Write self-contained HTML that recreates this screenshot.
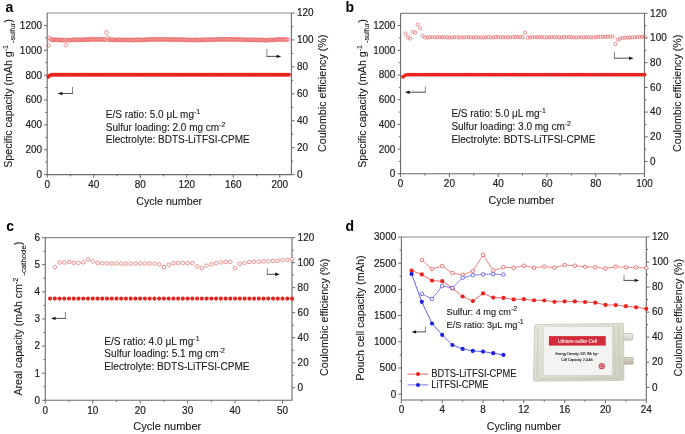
<!DOCTYPE html>
<html><head><meta charset="utf-8"><style>
html,body{margin:0;padding:0;background:#fff;}
svg{display:block;font-family:"Liberation Sans", sans-serif;will-change:transform;}
</style></head><body>
<svg width="685" height="434" viewBox="0 0 685 434">
<rect width="685" height="434" fill="#fff"/>
<path d="M47.2,13H291.4" stroke="#8a8a8a" stroke-width="1.2"/><path d="M47.2,13V174.6H291.4V13" stroke="#6a6a6a" stroke-width="1.1" fill="none"/><path d="M47.2,174.6v3.2M93.71,174.6v3.2M140.23,174.6v3.2M186.74,174.6v3.2M233.26,174.6v3.2M279.77,174.6v3.2M70.46,174.6v1.8M116.97,174.6v1.8M163.49,174.6v1.8M210,174.6v1.8M256.51,174.6v1.8M47.2,174.6h-3.2M47.2,149.74h-3.2M47.2,124.88h-3.2M47.2,100.02h-3.2M47.2,75.15h-3.2M47.2,50.29h-3.2M47.2,25.43h-3.2M47.2,162.17h-1.8M47.2,137.31h-1.8M47.2,112.45h-1.8M47.2,87.58h-1.8M47.2,62.72h-1.8M47.2,37.86h-1.8M291.4,174.6h3.2M291.4,147.67h3.2M291.4,120.73h3.2M291.4,93.8h3.2M291.4,66.87h3.2M291.4,39.93h3.2M291.4,13h3.2M291.4,161.13h1.8M291.4,134.2h1.8M291.4,107.27h1.8M291.4,80.33h1.8M291.4,53.4h1.8M291.4,26.47h1.8" stroke="#6a6a6a" stroke-width="1" fill="none"/><g font-size="9.95" fill="#1c1c1c" stroke="#1c1c1c" stroke-width="0.18"><text transform="matrix(1,0,0,1.03,47.2,188)" text-anchor="middle">0</text><text transform="matrix(1,0,0,1.03,93.71,188)" text-anchor="middle">40</text><text transform="matrix(1,0,0,1.03,140.23,188)" text-anchor="middle">80</text><text transform="matrix(1,0,0,1.03,186.74,188)" text-anchor="middle">120</text><text transform="matrix(1,0,0,1.03,233.26,188)" text-anchor="middle">160</text><text transform="matrix(1,0,0,1.03,279.77,188)" text-anchor="middle">200</text><text transform="matrix(1,0,0,1.03,42,178)" text-anchor="end">0</text><text transform="matrix(1,0,0,1.03,42,153.14)" text-anchor="end">200</text><text transform="matrix(1,0,0,1.03,42,128.28)" text-anchor="end">400</text><text transform="matrix(1,0,0,1.03,42,103.42)" text-anchor="end">600</text><text transform="matrix(1,0,0,1.03,42,78.55)" text-anchor="end">800</text><text transform="matrix(1,0,0,1.03,42,53.69)" text-anchor="end">1000</text><text transform="matrix(1,0,0,1.03,42,28.83)" text-anchor="end">1200</text><text transform="matrix(1,0,0,1.03,297,177.8)">0</text><text transform="matrix(1,0,0,1.03,297,150.87)">20</text><text transform="matrix(1,0,0,1.03,297,123.93)">40</text><text transform="matrix(1,0,0,1.03,297,97)">60</text><text transform="matrix(1,0,0,1.03,297,70.07)">80</text><text transform="matrix(1,0,0,1.03,297,43.13)">100</text><text transform="matrix(1,0,0,1.03,297,16.2)">120</text></g><g fill="none" stroke="#ec6868" stroke-width="0.7"><circle cx="48.36" cy="45.4" r="1.85"/><circle cx="49.53" cy="37.8" r="1.85"/><circle cx="50.69" cy="39.6" r="1.85"/><circle cx="51.85" cy="39.89" r="1.85"/><circle cx="53.01" cy="39.93" r="1.85"/><circle cx="54.18" cy="39.62" r="1.85"/><circle cx="55.34" cy="39.62" r="1.85"/><circle cx="56.5" cy="40.14" r="1.85"/><circle cx="57.67" cy="39.81" r="1.85"/><circle cx="58.83" cy="39.81" r="1.85"/><circle cx="59.99" cy="40.28" r="1.85"/><circle cx="61.15" cy="39.97" r="1.85"/><circle cx="62.32" cy="40.2" r="1.85"/><circle cx="63.48" cy="39.99" r="1.85"/><circle cx="64.64" cy="40.08" r="1.85"/><circle cx="65.81" cy="45.2" r="1.85"/><circle cx="66.97" cy="40.07" r="1.85"/><circle cx="68.13" cy="40.19" r="1.85"/><circle cx="69.29" cy="39.97" r="1.85"/><circle cx="70.46" cy="40.08" r="1.85"/><circle cx="71.62" cy="40.02" r="1.85"/><circle cx="72.78" cy="39.63" r="1.85"/><circle cx="73.95" cy="40.02" r="1.85"/><circle cx="75.11" cy="39.89" r="1.85"/><circle cx="76.27" cy="39.69" r="1.85"/><circle cx="77.43" cy="39.49" r="1.85"/><circle cx="78.6" cy="39.96" r="1.85"/><circle cx="79.76" cy="39.69" r="1.85"/><circle cx="80.92" cy="39.81" r="1.85"/><circle cx="82.09" cy="39.87" r="1.85"/><circle cx="83.25" cy="39.74" r="1.85"/><circle cx="84.41" cy="39.83" r="1.85"/><circle cx="85.57" cy="39.49" r="1.85"/><circle cx="86.74" cy="39.7" r="1.85"/><circle cx="87.9" cy="39.46" r="1.85"/><circle cx="89.06" cy="39.73" r="1.85"/><circle cx="90.23" cy="39.68" r="1.85"/><circle cx="91.39" cy="39.19" r="1.85"/><circle cx="92.55" cy="39.2" r="1.85"/><circle cx="93.71" cy="39.24" r="1.85"/><circle cx="94.88" cy="39.68" r="1.85"/><circle cx="96.04" cy="39.36" r="1.85"/><circle cx="97.2" cy="39.48" r="1.85"/><circle cx="98.37" cy="39.29" r="1.85"/><circle cx="99.53" cy="39.42" r="1.85"/><circle cx="100.69" cy="39.36" r="1.85"/><circle cx="101.85" cy="39.35" r="1.85"/><circle cx="103.02" cy="39.51" r="1.85"/><circle cx="104.18" cy="39.53" r="1.85"/><circle cx="105.34" cy="39.74" r="1.85"/><circle cx="106.51" cy="32.6" r="1.85"/><circle cx="107.67" cy="38" r="1.85"/><circle cx="108.83" cy="39.8" r="1.85"/><circle cx="109.99" cy="39.91" r="1.85"/><circle cx="111.16" cy="39.75" r="1.85"/><circle cx="112.32" cy="39.48" r="1.85"/><circle cx="113.48" cy="39.93" r="1.85"/><circle cx="114.65" cy="40.03" r="1.85"/><circle cx="115.81" cy="40.02" r="1.85"/><circle cx="116.97" cy="39.85" r="1.85"/><circle cx="118.13" cy="39.97" r="1.85"/><circle cx="119.3" cy="39.7" r="1.85"/><circle cx="120.46" cy="40.1" r="1.85"/><circle cx="121.62" cy="39.97" r="1.85"/><circle cx="122.79" cy="39.81" r="1.85"/><circle cx="123.95" cy="39.7" r="1.85"/><circle cx="125.11" cy="40.19" r="1.85"/><circle cx="126.27" cy="40.28" r="1.85"/><circle cx="127.44" cy="39.75" r="1.85"/><circle cx="128.6" cy="40.18" r="1.85"/><circle cx="129.76" cy="39.95" r="1.85"/><circle cx="130.93" cy="39.79" r="1.85"/><circle cx="132.09" cy="39.87" r="1.85"/><circle cx="133.25" cy="40.14" r="1.85"/><circle cx="134.41" cy="40.19" r="1.85"/><circle cx="135.58" cy="39.68" r="1.85"/><circle cx="136.74" cy="40" r="1.85"/><circle cx="137.9" cy="39.63" r="1.85"/><circle cx="139.07" cy="40.01" r="1.85"/><circle cx="140.23" cy="39.75" r="1.85"/><circle cx="141.39" cy="40.05" r="1.85"/><circle cx="142.55" cy="40.08" r="1.85"/><circle cx="143.72" cy="39.76" r="1.85"/><circle cx="144.88" cy="40.03" r="1.85"/><circle cx="146.04" cy="39.58" r="1.85"/><circle cx="147.21" cy="39.41" r="1.85"/><circle cx="148.37" cy="39.69" r="1.85"/><circle cx="149.53" cy="39.32" r="1.85"/><circle cx="150.69" cy="39.38" r="1.85"/><circle cx="151.86" cy="39.48" r="1.85"/><circle cx="153.02" cy="39.58" r="1.85"/><circle cx="154.18" cy="39.28" r="1.85"/><circle cx="155.35" cy="39.19" r="1.85"/><circle cx="156.51" cy="39.67" r="1.85"/><circle cx="157.67" cy="39.32" r="1.85"/><circle cx="158.83" cy="39.69" r="1.85"/><circle cx="160" cy="39.65" r="1.85"/><circle cx="161.16" cy="39.33" r="1.85"/><circle cx="162.32" cy="39.38" r="1.85"/><circle cx="163.49" cy="39.41" r="1.85"/><circle cx="164.65" cy="39.49" r="1.85"/><circle cx="165.81" cy="39.47" r="1.85"/><circle cx="166.97" cy="39.47" r="1.85"/><circle cx="168.14" cy="39.52" r="1.85"/><circle cx="169.3" cy="39.73" r="1.85"/><circle cx="170.46" cy="39.49" r="1.85"/><circle cx="171.63" cy="39.47" r="1.85"/><circle cx="172.79" cy="39.67" r="1.85"/><circle cx="173.95" cy="39.41" r="1.85"/><circle cx="175.11" cy="39.48" r="1.85"/><circle cx="176.28" cy="39.92" r="1.85"/><circle cx="177.44" cy="39.68" r="1.85"/><circle cx="178.6" cy="39.73" r="1.85"/><circle cx="179.77" cy="39.44" r="1.85"/><circle cx="180.93" cy="39.71" r="1.85"/><circle cx="182.09" cy="39.84" r="1.85"/><circle cx="183.25" cy="39.54" r="1.85"/><circle cx="184.42" cy="39.92" r="1.85"/><circle cx="185.58" cy="39.96" r="1.85"/><circle cx="186.74" cy="39.64" r="1.85"/><circle cx="187.91" cy="40.01" r="1.85"/><circle cx="189.07" cy="39.93" r="1.85"/><circle cx="190.23" cy="40.07" r="1.85"/><circle cx="191.39" cy="39.89" r="1.85"/><circle cx="192.56" cy="40.11" r="1.85"/><circle cx="193.72" cy="40.14" r="1.85"/><circle cx="194.88" cy="39.71" r="1.85"/><circle cx="196.05" cy="39.74" r="1.85"/><circle cx="197.21" cy="40.1" r="1.85"/><circle cx="198.37" cy="40.26" r="1.85"/><circle cx="199.53" cy="39.82" r="1.85"/><circle cx="200.7" cy="39.93" r="1.85"/><circle cx="201.86" cy="40" r="1.85"/><circle cx="203.02" cy="39.81" r="1.85"/><circle cx="204.19" cy="39.81" r="1.85"/><circle cx="205.35" cy="39.76" r="1.85"/><circle cx="206.51" cy="39.76" r="1.85"/><circle cx="207.67" cy="39.87" r="1.85"/><circle cx="208.84" cy="39.66" r="1.85"/><circle cx="210" cy="39.67" r="1.85"/><circle cx="211.16" cy="39.88" r="1.85"/><circle cx="212.33" cy="39.4" r="1.85"/><circle cx="213.49" cy="39.69" r="1.85"/><circle cx="214.65" cy="39.75" r="1.85"/><circle cx="215.81" cy="39.47" r="1.85"/><circle cx="216.98" cy="39.39" r="1.85"/><circle cx="218.14" cy="39.71" r="1.85"/><circle cx="219.3" cy="39.34" r="1.85"/><circle cx="220.47" cy="39.29" r="1.85"/><circle cx="221.63" cy="39.42" r="1.85"/><circle cx="222.79" cy="39.56" r="1.85"/><circle cx="223.95" cy="39.18" r="1.85"/><circle cx="225.12" cy="39.3" r="1.85"/><circle cx="226.28" cy="39.3" r="1.85"/><circle cx="227.44" cy="39.6" r="1.85"/><circle cx="228.61" cy="39.36" r="1.85"/><circle cx="229.77" cy="39.62" r="1.85"/><circle cx="230.93" cy="39.21" r="1.85"/><circle cx="232.09" cy="39.32" r="1.85"/><circle cx="233.26" cy="39.53" r="1.85"/><circle cx="234.42" cy="39.69" r="1.85"/><circle cx="235.58" cy="39.45" r="1.85"/><circle cx="236.75" cy="39.33" r="1.85"/><circle cx="237.91" cy="39.3" r="1.85"/><circle cx="239.07" cy="39.57" r="1.85"/><circle cx="240.23" cy="39.4" r="1.85"/><circle cx="241.4" cy="39.8" r="1.85"/><circle cx="242.56" cy="39.85" r="1.85"/><circle cx="243.72" cy="39.49" r="1.85"/><circle cx="244.89" cy="39.58" r="1.85"/><circle cx="246.05" cy="39.93" r="1.85"/><circle cx="247.21" cy="39.86" r="1.85"/><circle cx="248.37" cy="39.99" r="1.85"/><circle cx="249.54" cy="39.75" r="1.85"/><circle cx="250.7" cy="39.65" r="1.85"/><circle cx="251.86" cy="39.77" r="1.85"/><circle cx="253.03" cy="40.1" r="1.85"/><circle cx="254.19" cy="39.8" r="1.85"/><circle cx="255.35" cy="39.87" r="1.85"/><circle cx="256.51" cy="39.92" r="1.85"/><circle cx="257.68" cy="39.94" r="1.85"/><circle cx="258.84" cy="39.94" r="1.85"/><circle cx="260" cy="40.25" r="1.85"/><circle cx="261.17" cy="39.79" r="1.85"/><circle cx="262.33" cy="39.7" r="1.85"/><circle cx="263.49" cy="40.26" r="1.85"/><circle cx="264.65" cy="40.21" r="1.85"/><circle cx="265.82" cy="40.26" r="1.85"/><circle cx="266.98" cy="39.91" r="1.85"/><circle cx="268.14" cy="40.2" r="1.85"/><circle cx="269.31" cy="40.17" r="1.85"/><circle cx="270.47" cy="39.72" r="1.85"/><circle cx="271.63" cy="40" r="1.85"/><circle cx="272.79" cy="40.03" r="1.85"/><circle cx="273.96" cy="39.89" r="1.85"/><circle cx="275.12" cy="39.77" r="1.85"/><circle cx="276.28" cy="39.6" r="1.85"/><circle cx="277.45" cy="39.6" r="1.85"/><circle cx="278.61" cy="39.5" r="1.85"/><circle cx="279.77" cy="39.37" r="1.85"/><circle cx="280.93" cy="39.65" r="1.85"/><circle cx="282.1" cy="39.44" r="1.85"/><circle cx="283.26" cy="39.73" r="1.85"/><circle cx="284.42" cy="39.24" r="1.85"/><circle cx="285.59" cy="39.73" r="1.85"/><circle cx="286.75" cy="39.58" r="1.85"/><circle cx="287.91" cy="39.7" r="1.85"/></g><g fill="#e8231e"><circle cx="48.36" cy="76.89" r="1.85"/><circle cx="49.53" cy="75.65" r="1.85"/><circle cx="50.69" cy="75.03" r="1.85"/><circle cx="51.85" cy="74.66" r="1.85"/><circle cx="53.01" cy="74.66" r="1.85"/><circle cx="54.18" cy="74.66" r="1.85"/><circle cx="55.34" cy="74.66" r="1.85"/><circle cx="56.5" cy="74.66" r="1.85"/><circle cx="57.67" cy="74.66" r="1.85"/><circle cx="58.83" cy="74.66" r="1.85"/><circle cx="59.99" cy="74.66" r="1.85"/><circle cx="61.15" cy="74.66" r="1.85"/><circle cx="62.32" cy="74.66" r="1.85"/><circle cx="63.48" cy="74.66" r="1.85"/><circle cx="64.64" cy="74.66" r="1.85"/><circle cx="65.81" cy="74.66" r="1.85"/><circle cx="66.97" cy="74.66" r="1.85"/><circle cx="68.13" cy="74.66" r="1.85"/><circle cx="69.29" cy="74.66" r="1.85"/><circle cx="70.46" cy="74.66" r="1.85"/><circle cx="71.62" cy="74.66" r="1.85"/><circle cx="72.78" cy="74.66" r="1.85"/><circle cx="73.95" cy="74.66" r="1.85"/><circle cx="75.11" cy="74.66" r="1.85"/><circle cx="76.27" cy="74.66" r="1.85"/><circle cx="77.43" cy="74.66" r="1.85"/><circle cx="78.6" cy="74.66" r="1.85"/><circle cx="79.76" cy="74.66" r="1.85"/><circle cx="80.92" cy="74.66" r="1.85"/><circle cx="82.09" cy="74.66" r="1.85"/><circle cx="83.25" cy="74.66" r="1.85"/><circle cx="84.41" cy="74.66" r="1.85"/><circle cx="85.57" cy="74.66" r="1.85"/><circle cx="86.74" cy="74.66" r="1.85"/><circle cx="87.9" cy="74.66" r="1.85"/><circle cx="89.06" cy="74.66" r="1.85"/><circle cx="90.23" cy="74.66" r="1.85"/><circle cx="91.39" cy="74.66" r="1.85"/><circle cx="92.55" cy="74.66" r="1.85"/><circle cx="93.71" cy="74.66" r="1.85"/><circle cx="94.88" cy="74.66" r="1.85"/><circle cx="96.04" cy="74.66" r="1.85"/><circle cx="97.2" cy="74.66" r="1.85"/><circle cx="98.37" cy="74.66" r="1.85"/><circle cx="99.53" cy="74.66" r="1.85"/><circle cx="100.69" cy="74.66" r="1.85"/><circle cx="101.85" cy="74.66" r="1.85"/><circle cx="103.02" cy="74.66" r="1.85"/><circle cx="104.18" cy="74.66" r="1.85"/><circle cx="105.34" cy="74.66" r="1.85"/><circle cx="106.51" cy="74.66" r="1.85"/><circle cx="107.67" cy="74.66" r="1.85"/><circle cx="108.83" cy="74.66" r="1.85"/><circle cx="109.99" cy="74.66" r="1.85"/><circle cx="111.16" cy="74.66" r="1.85"/><circle cx="112.32" cy="74.66" r="1.85"/><circle cx="113.48" cy="74.66" r="1.85"/><circle cx="114.65" cy="74.66" r="1.85"/><circle cx="115.81" cy="74.66" r="1.85"/><circle cx="116.97" cy="74.66" r="1.85"/><circle cx="118.13" cy="74.66" r="1.85"/><circle cx="119.3" cy="74.66" r="1.85"/><circle cx="120.46" cy="74.66" r="1.85"/><circle cx="121.62" cy="74.66" r="1.85"/><circle cx="122.79" cy="74.66" r="1.85"/><circle cx="123.95" cy="74.66" r="1.85"/><circle cx="125.11" cy="74.66" r="1.85"/><circle cx="126.27" cy="74.66" r="1.85"/><circle cx="127.44" cy="74.66" r="1.85"/><circle cx="128.6" cy="74.66" r="1.85"/><circle cx="129.76" cy="74.66" r="1.85"/><circle cx="130.93" cy="74.66" r="1.85"/><circle cx="132.09" cy="74.66" r="1.85"/><circle cx="133.25" cy="74.66" r="1.85"/><circle cx="134.41" cy="74.66" r="1.85"/><circle cx="135.58" cy="74.66" r="1.85"/><circle cx="136.74" cy="74.66" r="1.85"/><circle cx="137.9" cy="74.66" r="1.85"/><circle cx="139.07" cy="74.66" r="1.85"/><circle cx="140.23" cy="74.66" r="1.85"/><circle cx="141.39" cy="74.66" r="1.85"/><circle cx="142.55" cy="74.66" r="1.85"/><circle cx="143.72" cy="74.66" r="1.85"/><circle cx="144.88" cy="74.66" r="1.85"/><circle cx="146.04" cy="74.66" r="1.85"/><circle cx="147.21" cy="74.66" r="1.85"/><circle cx="148.37" cy="74.66" r="1.85"/><circle cx="149.53" cy="74.66" r="1.85"/><circle cx="150.69" cy="74.66" r="1.85"/><circle cx="151.86" cy="74.66" r="1.85"/><circle cx="153.02" cy="74.66" r="1.85"/><circle cx="154.18" cy="74.66" r="1.85"/><circle cx="155.35" cy="74.66" r="1.85"/><circle cx="156.51" cy="74.66" r="1.85"/><circle cx="157.67" cy="74.66" r="1.85"/><circle cx="158.83" cy="74.66" r="1.85"/><circle cx="160" cy="74.66" r="1.85"/><circle cx="161.16" cy="74.66" r="1.85"/><circle cx="162.32" cy="74.66" r="1.85"/><circle cx="163.49" cy="74.66" r="1.85"/><circle cx="164.65" cy="74.66" r="1.85"/><circle cx="165.81" cy="74.66" r="1.85"/><circle cx="166.97" cy="74.66" r="1.85"/><circle cx="168.14" cy="74.66" r="1.85"/><circle cx="169.3" cy="74.66" r="1.85"/><circle cx="170.46" cy="74.66" r="1.85"/><circle cx="171.63" cy="74.66" r="1.85"/><circle cx="172.79" cy="74.66" r="1.85"/><circle cx="173.95" cy="74.66" r="1.85"/><circle cx="175.11" cy="74.66" r="1.85"/><circle cx="176.28" cy="74.66" r="1.85"/><circle cx="177.44" cy="74.66" r="1.85"/><circle cx="178.6" cy="74.66" r="1.85"/><circle cx="179.77" cy="74.66" r="1.85"/><circle cx="180.93" cy="74.66" r="1.85"/><circle cx="182.09" cy="74.66" r="1.85"/><circle cx="183.25" cy="74.66" r="1.85"/><circle cx="184.42" cy="74.66" r="1.85"/><circle cx="185.58" cy="74.66" r="1.85"/><circle cx="186.74" cy="74.66" r="1.85"/><circle cx="187.91" cy="74.66" r="1.85"/><circle cx="189.07" cy="74.66" r="1.85"/><circle cx="190.23" cy="74.66" r="1.85"/><circle cx="191.39" cy="74.66" r="1.85"/><circle cx="192.56" cy="74.66" r="1.85"/><circle cx="193.72" cy="74.66" r="1.85"/><circle cx="194.88" cy="74.66" r="1.85"/><circle cx="196.05" cy="74.66" r="1.85"/><circle cx="197.21" cy="74.66" r="1.85"/><circle cx="198.37" cy="74.66" r="1.85"/><circle cx="199.53" cy="74.66" r="1.85"/><circle cx="200.7" cy="74.66" r="1.85"/><circle cx="201.86" cy="74.66" r="1.85"/><circle cx="203.02" cy="74.66" r="1.85"/><circle cx="204.19" cy="74.66" r="1.85"/><circle cx="205.35" cy="74.66" r="1.85"/><circle cx="206.51" cy="74.66" r="1.85"/><circle cx="207.67" cy="74.66" r="1.85"/><circle cx="208.84" cy="74.66" r="1.85"/><circle cx="210" cy="74.66" r="1.85"/><circle cx="211.16" cy="74.66" r="1.85"/><circle cx="212.33" cy="74.66" r="1.85"/><circle cx="213.49" cy="74.66" r="1.85"/><circle cx="214.65" cy="74.66" r="1.85"/><circle cx="215.81" cy="74.66" r="1.85"/><circle cx="216.98" cy="74.66" r="1.85"/><circle cx="218.14" cy="74.66" r="1.85"/><circle cx="219.3" cy="74.66" r="1.85"/><circle cx="220.47" cy="74.66" r="1.85"/><circle cx="221.63" cy="74.66" r="1.85"/><circle cx="222.79" cy="74.66" r="1.85"/><circle cx="223.95" cy="74.66" r="1.85"/><circle cx="225.12" cy="74.66" r="1.85"/><circle cx="226.28" cy="74.66" r="1.85"/><circle cx="227.44" cy="74.66" r="1.85"/><circle cx="228.61" cy="74.66" r="1.85"/><circle cx="229.77" cy="74.66" r="1.85"/><circle cx="230.93" cy="74.66" r="1.85"/><circle cx="232.09" cy="74.66" r="1.85"/><circle cx="233.26" cy="74.66" r="1.85"/><circle cx="234.42" cy="74.66" r="1.85"/><circle cx="235.58" cy="74.66" r="1.85"/><circle cx="236.75" cy="74.66" r="1.85"/><circle cx="237.91" cy="74.66" r="1.85"/><circle cx="239.07" cy="74.66" r="1.85"/><circle cx="240.23" cy="74.66" r="1.85"/><circle cx="241.4" cy="74.66" r="1.85"/><circle cx="242.56" cy="74.66" r="1.85"/><circle cx="243.72" cy="74.66" r="1.85"/><circle cx="244.89" cy="74.66" r="1.85"/><circle cx="246.05" cy="74.66" r="1.85"/><circle cx="247.21" cy="74.66" r="1.85"/><circle cx="248.37" cy="74.66" r="1.85"/><circle cx="249.54" cy="74.66" r="1.85"/><circle cx="250.7" cy="74.66" r="1.85"/><circle cx="251.86" cy="74.66" r="1.85"/><circle cx="253.03" cy="74.66" r="1.85"/><circle cx="254.19" cy="74.66" r="1.85"/><circle cx="255.35" cy="74.66" r="1.85"/><circle cx="256.51" cy="74.66" r="1.85"/><circle cx="257.68" cy="74.66" r="1.85"/><circle cx="258.84" cy="74.66" r="1.85"/><circle cx="260" cy="74.66" r="1.85"/><circle cx="261.17" cy="74.66" r="1.85"/><circle cx="262.33" cy="74.66" r="1.85"/><circle cx="263.49" cy="74.66" r="1.85"/><circle cx="264.65" cy="74.66" r="1.85"/><circle cx="265.82" cy="74.66" r="1.85"/><circle cx="266.98" cy="74.66" r="1.85"/><circle cx="268.14" cy="74.66" r="1.85"/><circle cx="269.31" cy="74.66" r="1.85"/><circle cx="270.47" cy="74.66" r="1.85"/><circle cx="271.63" cy="74.66" r="1.85"/><circle cx="272.79" cy="74.66" r="1.85"/><circle cx="273.96" cy="74.66" r="1.85"/><circle cx="275.12" cy="74.66" r="1.85"/><circle cx="276.28" cy="74.66" r="1.85"/><circle cx="277.45" cy="74.66" r="1.85"/><circle cx="278.61" cy="74.66" r="1.85"/><circle cx="279.77" cy="74.66" r="1.85"/><circle cx="280.93" cy="74.66" r="1.85"/><circle cx="282.1" cy="74.66" r="1.85"/><circle cx="283.26" cy="74.66" r="1.85"/><circle cx="284.42" cy="74.66" r="1.85"/><circle cx="285.59" cy="74.66" r="1.85"/><circle cx="286.75" cy="74.66" r="1.85"/><circle cx="287.91" cy="74.66" r="1.85"/><circle cx="289.07" cy="74.66" r="1.85"/></g><path d="M72.5,87V93.5" stroke="#777" stroke-width="0.9" fill="none"/><path d="M72.95,93.5H61.8" stroke="#3a3a3a" stroke-width="0.9" fill="none"/><path d="M57.8,93.5l4.6,-1.7v3.4z" fill="#111"/><path d="M266.9,49V56.4" stroke="#777" stroke-width="0.9" fill="none"/><path d="M266.45,56.4H277.2" stroke="#3a3a3a" stroke-width="0.9" fill="none"/><path d="M281.2,56.4l-4.6,-1.7v3.4z" fill="#111"/><path d="M400.6,13.3H644.5" stroke="#8a8a8a" stroke-width="1.2"/><path d="M400.6,13.3V173.8H644.5V13.3" stroke="#6a6a6a" stroke-width="1.1" fill="none"/><path d="M400.6,173.8v3.2M449.38,173.8v3.2M498.16,173.8v3.2M546.94,173.8v3.2M595.72,173.8v3.2M644.5,173.8v3.2M424.99,173.8v1.8M473.77,173.8v1.8M522.55,173.8v1.8M571.33,173.8v1.8M620.11,173.8v1.8M400.6,173.8h-3.2M400.6,149.11h-3.2M400.6,124.42h-3.2M400.6,99.72h-3.2M400.6,75.03h-3.2M400.6,50.34h-3.2M400.6,25.65h-3.2M400.6,161.45h-1.8M400.6,136.76h-1.8M400.6,112.07h-1.8M400.6,87.38h-1.8M400.6,62.68h-1.8M400.6,37.99h-1.8M644.5,161.45h3.2M644.5,136.76h3.2M644.5,112.07h3.2M644.5,87.38h3.2M644.5,62.68h3.2M644.5,37.99h3.2M644.5,13.3h3.2M644.5,149.11h1.8M644.5,124.42h1.8M644.5,99.72h1.8M644.5,75.03h1.8M644.5,50.34h1.8M644.5,25.65h1.8" stroke="#6a6a6a" stroke-width="1" fill="none"/><g font-size="9.95" fill="#1c1c1c" stroke="#1c1c1c" stroke-width="0.18"><text transform="matrix(1,0,0,1.03,400.6,187.2)" text-anchor="middle">0</text><text transform="matrix(1,0,0,1.03,449.38,187.2)" text-anchor="middle">20</text><text transform="matrix(1,0,0,1.03,498.16,187.2)" text-anchor="middle">40</text><text transform="matrix(1,0,0,1.03,546.94,187.2)" text-anchor="middle">60</text><text transform="matrix(1,0,0,1.03,595.72,187.2)" text-anchor="middle">80</text><text transform="matrix(1,0,0,1.03,644.5,187.2)" text-anchor="middle">100</text><text transform="matrix(1,0,0,1.03,395.4,177.2)" text-anchor="end">0</text><text transform="matrix(1,0,0,1.03,395.4,152.51)" text-anchor="end">200</text><text transform="matrix(1,0,0,1.03,395.4,127.82)" text-anchor="end">400</text><text transform="matrix(1,0,0,1.03,395.4,103.12)" text-anchor="end">600</text><text transform="matrix(1,0,0,1.03,395.4,78.43)" text-anchor="end">800</text><text transform="matrix(1,0,0,1.03,395.4,53.74)" text-anchor="end">1000</text><text transform="matrix(1,0,0,1.03,395.4,29.05)" text-anchor="end">1200</text><text transform="matrix(1,0,0,1.03,650.1,164.65)">0</text><text transform="matrix(1,0,0,1.03,650.1,139.96)">20</text><text transform="matrix(1,0,0,1.03,650.1,115.27)">40</text><text transform="matrix(1,0,0,1.03,650.1,90.58)">60</text><text transform="matrix(1,0,0,1.03,650.1,65.88)">80</text><text transform="matrix(1,0,0,1.03,650.1,41.19)">100</text><text transform="matrix(1,0,0,1.03,650.1,16.5)">120</text></g><g fill="none" stroke="#e65a5a" stroke-width="0.65"><circle cx="405.48" cy="33.5" r="1.6"/><circle cx="407.92" cy="37.2" r="1.6"/><circle cx="410.36" cy="38.6" r="1.6"/><circle cx="412.8" cy="31.7" r="1.6"/><circle cx="415.23" cy="32.6" r="1.6"/><circle cx="417.67" cy="24.7" r="1.6"/><circle cx="420.11" cy="28.4" r="1.6"/><circle cx="422.55" cy="35.8" r="1.6"/><circle cx="424.99" cy="37.54" r="1.6"/><circle cx="427.43" cy="37.54" r="1.6"/><circle cx="429.87" cy="37.35" r="1.6"/><circle cx="432.31" cy="37.01" r="1.6"/><circle cx="434.75" cy="37.45" r="1.6"/><circle cx="437.19" cy="37.1" r="1.6"/><circle cx="439.62" cy="37.18" r="1.6"/><circle cx="442.06" cy="37.4" r="1.6"/><circle cx="444.5" cy="37.31" r="1.6"/><circle cx="446.94" cy="37.25" r="1.6"/><circle cx="449.38" cy="37.56" r="1.6"/><circle cx="451.82" cy="37.37" r="1.6"/><circle cx="454.26" cy="37.2" r="1.6"/><circle cx="456.7" cy="37.15" r="1.6"/><circle cx="459.14" cy="37.52" r="1.6"/><circle cx="461.58" cy="37.29" r="1.6"/><circle cx="464.01" cy="37.47" r="1.6"/><circle cx="466.45" cy="37.21" r="1.6"/><circle cx="468.89" cy="37.12" r="1.6"/><circle cx="471.33" cy="37.32" r="1.6"/><circle cx="473.77" cy="37.49" r="1.6"/><circle cx="476.21" cy="37.1" r="1.6"/><circle cx="478.65" cy="37.48" r="1.6"/><circle cx="481.09" cy="37.55" r="1.6"/><circle cx="483.53" cy="37.48" r="1.6"/><circle cx="485.97" cy="37.49" r="1.6"/><circle cx="488.4" cy="37" r="1.6"/><circle cx="490.84" cy="37.38" r="1.6"/><circle cx="493.28" cy="37.52" r="1.6"/><circle cx="495.72" cy="37.03" r="1.6"/><circle cx="498.16" cy="37.16" r="1.6"/><circle cx="500.6" cy="37.16" r="1.6"/><circle cx="503.04" cy="37.32" r="1.6"/><circle cx="505.48" cy="37.25" r="1.6"/><circle cx="507.92" cy="37.28" r="1.6"/><circle cx="510.36" cy="37.47" r="1.6"/><circle cx="512.79" cy="37" r="1.6"/><circle cx="515.23" cy="37.03" r="1.6"/><circle cx="517.67" cy="37.08" r="1.6"/><circle cx="520.11" cy="37.07" r="1.6"/><circle cx="522.55" cy="37.04" r="1.6"/><circle cx="524.99" cy="32.7" r="1.6"/><circle cx="527.43" cy="37.58" r="1.6"/><circle cx="529.87" cy="37.51" r="1.6"/><circle cx="532.31" cy="37.05" r="1.6"/><circle cx="534.75" cy="37.3" r="1.6"/><circle cx="537.18" cy="37.19" r="1.6"/><circle cx="539.62" cy="37.19" r="1.6"/><circle cx="542.06" cy="37.21" r="1.6"/><circle cx="544.5" cy="37.39" r="1.6"/><circle cx="546.94" cy="37.35" r="1.6"/><circle cx="549.38" cy="37.22" r="1.6"/><circle cx="551.82" cy="37.11" r="1.6"/><circle cx="554.26" cy="37.2" r="1.6"/><circle cx="556.7" cy="37.07" r="1.6"/><circle cx="559.13" cy="37.33" r="1.6"/><circle cx="561.57" cy="37.43" r="1.6"/><circle cx="564.01" cy="37.23" r="1.6"/><circle cx="566.45" cy="37.05" r="1.6"/><circle cx="568.89" cy="37.11" r="1.6"/><circle cx="571.33" cy="37.22" r="1.6"/><circle cx="573.77" cy="37.36" r="1.6"/><circle cx="576.21" cy="37.47" r="1.6"/><circle cx="578.65" cy="37.23" r="1.6"/><circle cx="581.09" cy="37.48" r="1.6"/><circle cx="583.52" cy="37.37" r="1.6"/><circle cx="585.96" cy="37.26" r="1.6"/><circle cx="588.4" cy="37.22" r="1.6"/><circle cx="590.84" cy="37.3" r="1.6"/><circle cx="593.28" cy="37.42" r="1.6"/><circle cx="595.72" cy="37" r="1.6"/><circle cx="598.16" cy="36.94" r="1.6"/><circle cx="600.6" cy="36.88" r="1.6"/><circle cx="603.04" cy="36.82" r="1.6"/><circle cx="605.48" cy="36.76" r="1.6"/><circle cx="607.91" cy="36.7" r="1.6"/><circle cx="610.35" cy="36.64" r="1.6"/><circle cx="612.79" cy="36.58" r="1.6"/><circle cx="615.23" cy="44.1" r="1.6"/><circle cx="617.67" cy="39.9" r="1.6"/><circle cx="620.11" cy="38.6" r="1.6"/><circle cx="622.55" cy="37.88" r="1.6"/><circle cx="624.99" cy="37.76" r="1.6"/><circle cx="627.43" cy="37.64" r="1.6"/><circle cx="629.87" cy="37.52" r="1.6"/><circle cx="632.3" cy="37.4" r="1.6"/><circle cx="634.74" cy="37.28" r="1.6"/><circle cx="637.18" cy="37.16" r="1.6"/><circle cx="639.62" cy="37.04" r="1.6"/><circle cx="642.06" cy="36.92" r="1.6"/><circle cx="644.5" cy="36.8" r="1.6"/></g><g fill="#e8231e"><circle cx="403.04" cy="76.76" r="1.9"/><circle cx="405.48" cy="75.03" r="1.9"/><circle cx="407.92" cy="74.66" r="1.9"/><circle cx="410.36" cy="74.66" r="1.9"/><circle cx="412.8" cy="74.66" r="1.9"/><circle cx="415.23" cy="74.66" r="1.9"/><circle cx="417.67" cy="74.66" r="1.9"/><circle cx="420.11" cy="74.66" r="1.9"/><circle cx="422.55" cy="74.66" r="1.9"/><circle cx="424.99" cy="74.66" r="1.9"/><circle cx="427.43" cy="74.66" r="1.9"/><circle cx="429.87" cy="74.66" r="1.9"/><circle cx="432.31" cy="74.66" r="1.9"/><circle cx="434.75" cy="74.66" r="1.9"/><circle cx="437.19" cy="74.66" r="1.9"/><circle cx="439.62" cy="74.66" r="1.9"/><circle cx="442.06" cy="74.66" r="1.9"/><circle cx="444.5" cy="74.66" r="1.9"/><circle cx="446.94" cy="74.66" r="1.9"/><circle cx="449.38" cy="74.66" r="1.9"/><circle cx="451.82" cy="74.66" r="1.9"/><circle cx="454.26" cy="74.66" r="1.9"/><circle cx="456.7" cy="74.66" r="1.9"/><circle cx="459.14" cy="74.66" r="1.9"/><circle cx="461.58" cy="74.66" r="1.9"/><circle cx="464.01" cy="74.66" r="1.9"/><circle cx="466.45" cy="74.66" r="1.9"/><circle cx="468.89" cy="74.66" r="1.9"/><circle cx="471.33" cy="74.66" r="1.9"/><circle cx="473.77" cy="74.66" r="1.9"/><circle cx="476.21" cy="74.66" r="1.9"/><circle cx="478.65" cy="74.66" r="1.9"/><circle cx="481.09" cy="74.66" r="1.9"/><circle cx="483.53" cy="74.66" r="1.9"/><circle cx="485.97" cy="74.66" r="1.9"/><circle cx="488.4" cy="74.66" r="1.9"/><circle cx="490.84" cy="74.66" r="1.9"/><circle cx="493.28" cy="74.66" r="1.9"/><circle cx="495.72" cy="74.66" r="1.9"/><circle cx="498.16" cy="74.66" r="1.9"/><circle cx="500.6" cy="74.66" r="1.9"/><circle cx="503.04" cy="74.66" r="1.9"/><circle cx="505.48" cy="74.66" r="1.9"/><circle cx="507.92" cy="74.66" r="1.9"/><circle cx="510.36" cy="74.66" r="1.9"/><circle cx="512.79" cy="74.66" r="1.9"/><circle cx="515.23" cy="74.66" r="1.9"/><circle cx="517.67" cy="74.66" r="1.9"/><circle cx="520.11" cy="74.66" r="1.9"/><circle cx="522.55" cy="74.66" r="1.9"/><circle cx="524.99" cy="74.66" r="1.9"/><circle cx="527.43" cy="74.66" r="1.9"/><circle cx="529.87" cy="74.66" r="1.9"/><circle cx="532.31" cy="74.66" r="1.9"/><circle cx="534.75" cy="74.66" r="1.9"/><circle cx="537.18" cy="74.66" r="1.9"/><circle cx="539.62" cy="74.66" r="1.9"/><circle cx="542.06" cy="74.66" r="1.9"/><circle cx="544.5" cy="74.66" r="1.9"/><circle cx="546.94" cy="74.66" r="1.9"/><circle cx="549.38" cy="74.66" r="1.9"/><circle cx="551.82" cy="74.66" r="1.9"/><circle cx="554.26" cy="74.66" r="1.9"/><circle cx="556.7" cy="74.66" r="1.9"/><circle cx="559.13" cy="74.66" r="1.9"/><circle cx="561.57" cy="74.66" r="1.9"/><circle cx="564.01" cy="74.66" r="1.9"/><circle cx="566.45" cy="74.66" r="1.9"/><circle cx="568.89" cy="74.66" r="1.9"/><circle cx="571.33" cy="74.66" r="1.9"/><circle cx="573.77" cy="74.66" r="1.9"/><circle cx="576.21" cy="74.66" r="1.9"/><circle cx="578.65" cy="74.66" r="1.9"/><circle cx="581.09" cy="74.66" r="1.9"/><circle cx="583.52" cy="74.66" r="1.9"/><circle cx="585.96" cy="74.66" r="1.9"/><circle cx="588.4" cy="74.66" r="1.9"/><circle cx="590.84" cy="74.66" r="1.9"/><circle cx="593.28" cy="74.66" r="1.9"/><circle cx="595.72" cy="74.66" r="1.9"/><circle cx="598.16" cy="74.66" r="1.9"/><circle cx="600.6" cy="74.66" r="1.9"/><circle cx="603.04" cy="74.66" r="1.9"/><circle cx="605.48" cy="74.66" r="1.9"/><circle cx="607.91" cy="74.66" r="1.9"/><circle cx="610.35" cy="74.66" r="1.9"/><circle cx="612.79" cy="74.66" r="1.9"/><circle cx="615.23" cy="74.66" r="1.9"/><circle cx="617.67" cy="74.66" r="1.9"/><circle cx="620.11" cy="74.66" r="1.9"/><circle cx="622.55" cy="74.66" r="1.9"/><circle cx="624.99" cy="74.66" r="1.9"/><circle cx="627.43" cy="74.66" r="1.9"/><circle cx="629.87" cy="74.66" r="1.9"/><circle cx="632.3" cy="74.66" r="1.9"/><circle cx="634.74" cy="74.66" r="1.9"/><circle cx="637.18" cy="74.66" r="1.9"/><circle cx="639.62" cy="74.66" r="1.9"/><circle cx="642.06" cy="74.66" r="1.9"/><circle cx="644.5" cy="74.66" r="1.9"/></g><path d="M425.3,86.5V92.2" stroke="#777" stroke-width="0.9" fill="none"/><path d="M425.75,92.2H409" stroke="#3a3a3a" stroke-width="0.9" fill="none"/><path d="M405,92.2l4.6,-1.7v3.4z" fill="#111"/><path d="M614.4,51.7V58.2" stroke="#777" stroke-width="0.9" fill="none"/><path d="M613.95,58.2H629.6" stroke="#3a3a3a" stroke-width="0.9" fill="none"/><path d="M633.6,58.2l-4.6,-1.7v3.4z" fill="#111"/><path d="M45.3,237.6H292" stroke="#8a8a8a" stroke-width="1.2"/><path d="M45.3,237.6V400.3H292V237.6" stroke="#6a6a6a" stroke-width="1.1" fill="none"/><path d="M45.3,400.3v3.2M92.74,400.3v3.2M140.18,400.3v3.2M187.63,400.3v3.2M235.07,400.3v3.2M282.51,400.3v3.2M69.02,400.3v1.8M116.46,400.3v1.8M163.91,400.3v1.8M211.35,400.3v1.8M258.79,400.3v1.8M45.3,400.3h-3.2M45.3,373.18h-3.2M45.3,346.07h-3.2M45.3,318.95h-3.2M45.3,291.83h-3.2M45.3,264.72h-3.2M45.3,237.6h-3.2M45.3,386.74h-1.8M45.3,359.62h-1.8M45.3,332.51h-1.8M45.3,305.39h-1.8M45.3,278.27h-1.8M45.3,251.16h-1.8M292,387.78h3.2M292,362.75h3.2M292,337.72h3.2M292,312.69h3.2M292,287.66h3.2M292,262.63h3.2M292,237.6h3.2M292,375.27h1.8M292,350.24h1.8M292,325.21h1.8M292,300.18h1.8M292,275.15h1.8M292,250.12h1.8" stroke="#6a6a6a" stroke-width="1" fill="none"/><g font-size="9.95" fill="#1c1c1c" stroke="#1c1c1c" stroke-width="0.18"><text transform="matrix(1,0,0,1.03,45.3,413.7)" text-anchor="middle">0</text><text transform="matrix(1,0,0,1.03,92.74,413.7)" text-anchor="middle">10</text><text transform="matrix(1,0,0,1.03,140.18,413.7)" text-anchor="middle">20</text><text transform="matrix(1,0,0,1.03,187.63,413.7)" text-anchor="middle">30</text><text transform="matrix(1,0,0,1.03,235.07,413.7)" text-anchor="middle">40</text><text transform="matrix(1,0,0,1.03,282.51,413.7)" text-anchor="middle">50</text><text transform="matrix(1,0,0,1.03,40.1,403.7)" text-anchor="end">0</text><text transform="matrix(1,0,0,1.03,40.1,376.58)" text-anchor="end">1</text><text transform="matrix(1,0,0,1.03,40.1,349.47)" text-anchor="end">2</text><text transform="matrix(1,0,0,1.03,40.1,322.35)" text-anchor="end">3</text><text transform="matrix(1,0,0,1.03,40.1,295.23)" text-anchor="end">4</text><text transform="matrix(1,0,0,1.03,40.1,268.12)" text-anchor="end">5</text><text transform="matrix(1,0,0,1.03,40.1,241)" text-anchor="end">6</text><text transform="matrix(1,0,0,1.03,297.6,390.98)">0</text><text transform="matrix(1,0,0,1.03,297.6,365.95)">20</text><text transform="matrix(1,0,0,1.03,297.6,340.92)">40</text><text transform="matrix(1,0,0,1.03,297.6,315.89)">60</text><text transform="matrix(1,0,0,1.03,297.6,290.86)">80</text><text transform="matrix(1,0,0,1.03,297.6,265.83)">100</text><text transform="matrix(1,0,0,1.03,297.6,240.8)">120</text></g><g fill="#fff" stroke="#e65a5a" stroke-width="0.65"><circle cx="54.79" cy="267.1" r="1.8"/><circle cx="59.53" cy="262.5" r="1.8"/><circle cx="64.28" cy="262.5" r="1.8"/><circle cx="69.02" cy="262" r="1.8"/><circle cx="73.77" cy="262.9" r="1.8"/><circle cx="78.51" cy="262.9" r="1.8"/><circle cx="83.25" cy="262.4" r="1.8"/><circle cx="88" cy="259.5" r="1.8"/><circle cx="92.74" cy="261.4" r="1.8"/><circle cx="97.49" cy="262.9" r="1.8"/><circle cx="102.23" cy="263.3" r="1.8"/><circle cx="106.97" cy="263.3" r="1.8"/><circle cx="111.72" cy="263.5" r="1.8"/><circle cx="116.46" cy="263.5" r="1.8"/><circle cx="121.21" cy="263.6" r="1.8"/><circle cx="125.95" cy="263.6" r="1.8"/><circle cx="130.7" cy="263.6" r="1.8"/><circle cx="135.44" cy="263.5" r="1.8"/><circle cx="140.18" cy="263.5" r="1.8"/><circle cx="144.93" cy="263.5" r="1.8"/><circle cx="149.67" cy="263.5" r="1.8"/><circle cx="154.42" cy="263.6" r="1.8"/><circle cx="159.16" cy="264.4" r="1.8"/><circle cx="163.91" cy="267.1" r="1.8"/><circle cx="168.65" cy="264.8" r="1.8"/><circle cx="173.39" cy="263.1" r="1.8"/><circle cx="178.14" cy="263.1" r="1.8"/><circle cx="182.88" cy="263.1" r="1.8"/><circle cx="187.63" cy="263.1" r="1.8"/><circle cx="192.37" cy="263.1" r="1.8"/><circle cx="197.12" cy="266.4" r="1.8"/><circle cx="201.86" cy="268.2" r="1.8"/><circle cx="206.6" cy="265.7" r="1.8"/><circle cx="211.35" cy="264.2" r="1.8"/><circle cx="216.09" cy="263.1" r="1.8"/><circle cx="220.84" cy="262.4" r="1.8"/><circle cx="225.58" cy="262" r="1.8"/><circle cx="230.32" cy="262" r="1.8"/><circle cx="235.07" cy="268.2" r="1.8"/><circle cx="239.81" cy="263.9" r="1.8"/><circle cx="244.56" cy="262.8" r="1.8"/><circle cx="249.3" cy="262" r="1.8"/><circle cx="254.05" cy="261.7" r="1.8"/><circle cx="258.79" cy="261.7" r="1.8"/><circle cx="263.53" cy="261.3" r="1.8"/><circle cx="268.28" cy="261.3" r="1.8"/><circle cx="273.02" cy="261" r="1.8"/><circle cx="277.77" cy="260.6" r="1.8"/><circle cx="282.51" cy="260.2" r="1.8"/><circle cx="287.26" cy="259.9" r="1.8"/><circle cx="292" cy="259.1" r="1.8"/></g><g fill="#e8231e"><circle cx="50.04" cy="298.6" r="2.05"/><circle cx="54.79" cy="298.6" r="2.05"/><circle cx="59.53" cy="298.6" r="2.05"/><circle cx="64.28" cy="298.6" r="2.05"/><circle cx="69.02" cy="298.6" r="2.05"/><circle cx="73.77" cy="298.6" r="2.05"/><circle cx="78.51" cy="298.6" r="2.05"/><circle cx="83.25" cy="298.6" r="2.05"/><circle cx="88" cy="298.6" r="2.05"/><circle cx="92.74" cy="298.6" r="2.05"/><circle cx="97.49" cy="298.6" r="2.05"/><circle cx="102.23" cy="298.6" r="2.05"/><circle cx="106.97" cy="298.6" r="2.05"/><circle cx="111.72" cy="298.6" r="2.05"/><circle cx="116.46" cy="298.6" r="2.05"/><circle cx="121.21" cy="298.6" r="2.05"/><circle cx="125.95" cy="298.6" r="2.05"/><circle cx="130.7" cy="298.6" r="2.05"/><circle cx="135.44" cy="298.6" r="2.05"/><circle cx="140.18" cy="298.6" r="2.05"/><circle cx="144.93" cy="298.6" r="2.05"/><circle cx="149.67" cy="298.6" r="2.05"/><circle cx="154.42" cy="298.6" r="2.05"/><circle cx="159.16" cy="298.6" r="2.05"/><circle cx="163.91" cy="298.6" r="2.05"/><circle cx="168.65" cy="298.6" r="2.05"/><circle cx="173.39" cy="298.6" r="2.05"/><circle cx="178.14" cy="298.6" r="2.05"/><circle cx="182.88" cy="298.6" r="2.05"/><circle cx="187.63" cy="298.6" r="2.05"/><circle cx="192.37" cy="298.6" r="2.05"/><circle cx="197.12" cy="298.6" r="2.05"/><circle cx="201.86" cy="298.6" r="2.05"/><circle cx="206.6" cy="298.6" r="2.05"/><circle cx="211.35" cy="298.6" r="2.05"/><circle cx="216.09" cy="298.6" r="2.05"/><circle cx="220.84" cy="298.6" r="2.05"/><circle cx="225.58" cy="298.6" r="2.05"/><circle cx="230.32" cy="298.6" r="2.05"/><circle cx="235.07" cy="298.6" r="2.05"/><circle cx="239.81" cy="298.6" r="2.05"/><circle cx="244.56" cy="298.6" r="2.05"/><circle cx="249.3" cy="298.6" r="2.05"/><circle cx="254.05" cy="298.6" r="2.05"/><circle cx="258.79" cy="298.6" r="2.05"/><circle cx="263.53" cy="298.6" r="2.05"/><circle cx="268.28" cy="298.6" r="2.05"/><circle cx="273.02" cy="298.6" r="2.05"/><circle cx="277.77" cy="298.6" r="2.05"/><circle cx="282.51" cy="298.6" r="2.05"/><circle cx="287.26" cy="298.6" r="2.05"/><circle cx="292" cy="298.6" r="2.05"/></g><path d="M65.4,312V318.4" stroke="#777" stroke-width="0.9" fill="none"/><path d="M65.85,318.4H55" stroke="#3a3a3a" stroke-width="0.9" fill="none"/><path d="M51,318.4l4.6,-1.7v3.4z" fill="#111"/><path d="M267.3,268V274.3" stroke="#777" stroke-width="0.9" fill="none"/><path d="M266.85,274.3H275.8" stroke="#3a3a3a" stroke-width="0.9" fill="none"/><path d="M279.8,274.3l-4.6,-1.7v3.4z" fill="#111"/><path d="M401.4,237H646.3" stroke="#8a8a8a" stroke-width="1.2"/><path d="M401.4,237V400H646.3V237" stroke="#6a6a6a" stroke-width="1.1" fill="none"/><path d="M401.4,400v3.2M442.22,400v3.2M483.03,400v3.2M523.85,400v3.2M564.67,400v3.2M605.48,400v3.2M646.3,400v3.2M421.81,400v1.8M462.62,400v1.8M503.44,400v1.8M544.26,400v1.8M585.07,400v1.8M625.89,400v1.8M401.4,394.18h-3.2M401.4,367.98h-3.2M401.4,341.79h-3.2M401.4,315.59h-3.2M401.4,289.39h-3.2M401.4,263.2h-3.2M401.4,237h-3.2M401.4,381.08h-1.8M401.4,354.88h-1.8M401.4,328.69h-1.8M401.4,302.49h-1.8M401.4,276.29h-1.8M401.4,250.1h-1.8M646.3,387.35h3.2M646.3,362.29h3.2M646.3,337.23h3.2M646.3,312.17h3.2M646.3,287.12h3.2M646.3,262.06h3.2M646.3,237h3.2M646.3,374.82h1.8M646.3,349.76h1.8M646.3,324.7h1.8M646.3,299.64h1.8M646.3,274.59h1.8M646.3,249.53h1.8" stroke="#6a6a6a" stroke-width="1" fill="none"/><g font-size="9.95" fill="#1c1c1c" stroke="#1c1c1c" stroke-width="0.18"><text transform="matrix(1,0,0,1.03,401.4,413.4)" text-anchor="middle">0</text><text transform="matrix(1,0,0,1.03,442.22,413.4)" text-anchor="middle">4</text><text transform="matrix(1,0,0,1.03,483.03,413.4)" text-anchor="middle">8</text><text transform="matrix(1,0,0,1.03,523.85,413.4)" text-anchor="middle">12</text><text transform="matrix(1,0,0,1.03,564.67,413.4)" text-anchor="middle">16</text><text transform="matrix(1,0,0,1.03,605.48,413.4)" text-anchor="middle">20</text><text transform="matrix(1,0,0,1.03,646.3,413.4)" text-anchor="middle">24</text><text transform="matrix(1,0,0,1.03,396.2,397.58)" text-anchor="end">0</text><text transform="matrix(1,0,0,1.03,396.2,371.38)" text-anchor="end">500</text><text transform="matrix(1,0,0,1.03,396.2,345.19)" text-anchor="end">1000</text><text transform="matrix(1,0,0,1.03,396.2,318.99)" text-anchor="end">1500</text><text transform="matrix(1,0,0,1.03,396.2,292.79)" text-anchor="end">2000</text><text transform="matrix(1,0,0,1.03,396.2,266.6)" text-anchor="end">2500</text><text transform="matrix(1,0,0,1.03,396.2,240.4)" text-anchor="end">3000</text><text transform="matrix(1,0,0,1.03,651.9,390.55)">0</text><text transform="matrix(1,0,0,1.03,651.9,365.49)">20</text><text transform="matrix(1,0,0,1.03,651.9,340.43)">40</text><text transform="matrix(1,0,0,1.03,651.9,315.37)">60</text><text transform="matrix(1,0,0,1.03,651.9,290.32)">80</text><text transform="matrix(1,0,0,1.03,651.9,265.26)">100</text><text transform="matrix(1,0,0,1.03,651.9,240.2)">120</text></g><polyline points="411.6,270.6 421.81,274.4 432.01,280.6 442.22,281.2 452.42,288.3 462.62,296.5 472.83,301.1 483.03,293.4 493.24,297.6 503.44,297.9 513.65,299.4 523.85,299.2 534.05,300.3 544.26,300.5 554.46,301.8 564.67,301.4 574.87,301.4 585.07,302 595.28,302.7 605.48,304.9 615.69,305.1 625.89,306.2 636.1,307.3 646.3,308.8" fill="none" stroke="#e84040" stroke-width="0.8"/><g fill="#e8231e"><circle cx="411.6" cy="270.6" r="2.1"/><circle cx="421.81" cy="274.4" r="2.1"/><circle cx="432.01" cy="280.6" r="2.1"/><circle cx="442.22" cy="281.2" r="2.1"/><circle cx="452.42" cy="288.3" r="2.1"/><circle cx="462.62" cy="296.5" r="2.1"/><circle cx="472.83" cy="301.1" r="2.1"/><circle cx="483.03" cy="293.4" r="2.1"/><circle cx="493.24" cy="297.6" r="2.1"/><circle cx="503.44" cy="297.9" r="2.1"/><circle cx="513.65" cy="299.4" r="2.1"/><circle cx="523.85" cy="299.2" r="2.1"/><circle cx="534.05" cy="300.3" r="2.1"/><circle cx="544.26" cy="300.5" r="2.1"/><circle cx="554.46" cy="301.8" r="2.1"/><circle cx="564.67" cy="301.4" r="2.1"/><circle cx="574.87" cy="301.4" r="2.1"/><circle cx="585.07" cy="302" r="2.1"/><circle cx="595.28" cy="302.7" r="2.1"/><circle cx="605.48" cy="304.9" r="2.1"/><circle cx="615.69" cy="305.1" r="2.1"/><circle cx="625.89" cy="306.2" r="2.1"/><circle cx="636.1" cy="307.3" r="2.1"/><circle cx="646.3" cy="308.8" r="2.1"/></g><polyline points="421.81,260 432.01,269 442.22,266.1 452.42,273.1 462.62,274.8 472.83,271 483.03,254.9 493.24,270.6 503.44,267.2 513.65,267.9 523.85,265.7 534.05,267.7 544.26,266.6 554.46,267.7 564.67,265 574.87,265.7 585.07,266.8 595.28,267.2 605.48,268.5 615.69,266.6 625.89,267.4 636.1,267.4 646.3,267.9" fill="none" stroke="#ee6666" stroke-width="0.8"/><g fill="#fff" stroke="#e65050" stroke-width="0.75"><circle cx="421.81" cy="260" r="1.8"/><circle cx="432.01" cy="269" r="1.8"/><circle cx="442.22" cy="266.1" r="1.8"/><circle cx="452.42" cy="273.1" r="1.8"/><circle cx="462.62" cy="274.8" r="1.8"/><circle cx="472.83" cy="271" r="1.8"/><circle cx="483.03" cy="254.9" r="1.8"/><circle cx="493.24" cy="270.6" r="1.8"/><circle cx="503.44" cy="267.2" r="1.8"/><circle cx="513.65" cy="267.9" r="1.8"/><circle cx="523.85" cy="265.7" r="1.8"/><circle cx="534.05" cy="267.7" r="1.8"/><circle cx="544.26" cy="266.6" r="1.8"/><circle cx="554.46" cy="267.7" r="1.8"/><circle cx="564.67" cy="265" r="1.8"/><circle cx="574.87" cy="265.7" r="1.8"/><circle cx="585.07" cy="266.8" r="1.8"/><circle cx="595.28" cy="267.2" r="1.8"/><circle cx="605.48" cy="268.5" r="1.8"/><circle cx="615.69" cy="266.6" r="1.8"/><circle cx="625.89" cy="267.4" r="1.8"/><circle cx="636.1" cy="267.4" r="1.8"/><circle cx="646.3" cy="267.9" r="1.8"/></g><polyline points="411.6,273.9 421.81,301.8 432.01,323.5 442.22,334.9 452.42,345 462.62,348.9 472.83,350.9 483.03,351.6 493.24,353.2 503.44,354.9" fill="none" stroke="#3a3ae8" stroke-width="0.8"/><g fill="#1e22e0"><circle cx="411.6" cy="273.9" r="2.1"/><circle cx="421.81" cy="301.8" r="2.1"/><circle cx="432.01" cy="323.5" r="2.1"/><circle cx="442.22" cy="334.9" r="2.1"/><circle cx="452.42" cy="345" r="2.1"/><circle cx="462.62" cy="348.9" r="2.1"/><circle cx="472.83" cy="350.9" r="2.1"/><circle cx="483.03" cy="351.6" r="2.1"/><circle cx="493.24" cy="353.2" r="2.1"/><circle cx="503.44" cy="354.9" r="2.1"/></g><polyline points="421.81,293.8 432.01,299 442.22,286 452.42,288 462.62,277.7 472.83,275.2 483.03,274.4 493.24,274.1 503.44,274.6" fill="none" stroke="#6464ee" stroke-width="0.8"/><g fill="#fff" stroke="#4040e8" stroke-width="0.75"><circle cx="421.81" cy="293.8" r="1.8"/><circle cx="432.01" cy="299" r="1.8"/><circle cx="442.22" cy="286" r="1.8"/><circle cx="452.42" cy="288" r="1.8"/><circle cx="462.62" cy="277.7" r="1.8"/><circle cx="472.83" cy="275.2" r="1.8"/><circle cx="483.03" cy="274.4" r="1.8"/><circle cx="493.24" cy="274.1" r="1.8"/><circle cx="503.44" cy="274.6" r="1.8"/></g><path d="M425.4,326.8V331.9" stroke="#777" stroke-width="0.9" fill="none"/><path d="M425.85,331.9H415.5" stroke="#3a3a3a" stroke-width="0.9" fill="none"/><path d="M411.5,331.9l4.6,-1.7v3.4z" fill="#111"/><path d="M624,275V280.4" stroke="#777" stroke-width="0.9" fill="none"/><path d="M623.55,280.4H635.2" stroke="#3a3a3a" stroke-width="0.9" fill="none"/><path d="M639.2,280.4l-4.6,-1.7v3.4z" fill="#111"/>
<defs><linearGradient id="pg" x1="0" y1="0" x2="1" y2="1"><stop offset="0" stop-color="#e6e6dc"/><stop offset="0.55" stop-color="#dadacd"/><stop offset="1" stop-color="#cdcdc0"/></linearGradient><linearGradient id="tb" x1="0" y1="0" x2="0" y2="1"><stop offset="0" stop-color="#f0f0ec"/><stop offset="1" stop-color="#cfcfc8"/></linearGradient><linearGradient id="tb2" x1="0" y1="0" x2="0" y2="1"><stop offset="0" stop-color="#d8d4c0"/><stop offset="1" stop-color="#bcb8a4"/></linearGradient></defs><rect x="620" y="333.6" width="12.6" height="6.6" rx="0.8" fill="url(#tb)" stroke="#9c9c96" stroke-width="0.5"/><rect x="620" y="357.4" width="13.2" height="6.8" rx="0.6" fill="url(#tb2)" stroke="#9a9888" stroke-width="0.5"/><path d="M536.2,324.6 L622.4,323.4 Q623.6,323.4 623.6,324.8 L624,378.4 Q624,380.6 621.6,380.6 L535,381.2 Q533.4,381.2 533.4,379.4 L534.6,326 Q534.8,324.6 536.2,324.6 Z" fill="url(#pg)" stroke="#bdbdb4" stroke-width="0.6"/><path d="M538,327 L537,378 M614,326 L615.5,377 M618.5,326 L620,378" stroke="#c6c6ba" stroke-width="1" fill="none" opacity="0.8"/><path d="M540,379 L618,378.5" stroke="#c2c2b8" stroke-width="1.2" opacity="0.7"/><rect x="543.3" y="326.6" width="69" height="48.6" fill="#f3f3f1" stroke="#cdcdc8" stroke-width="0.5"/><rect x="548.9" y="336.1" width="56.8" height="9.5" fill="#d22c3c"/><text x="577.4" y="343.2" font-size="4.9" fill="#f6dede" text-anchor="middle" stroke="#f6dede" stroke-width="0.15">Lithium-sulfur Cell</text><text x="577" y="355.2" font-size="3.4" fill="#2a2a2a" stroke="#2a2a2a" stroke-width="0.12" text-anchor="middle">Energy Density: 331 Wh kg<tspan font-size="2.2" dy="-1.2">-1</tspan></text><text x="577" y="360.6" font-size="3.4" fill="#2a2a2a" stroke="#2a2a2a" stroke-width="0.12" text-anchor="middle">Cell Capacity: 2.4 Ah</text><circle cx="601.8" cy="366.2" r="3.1" fill="#d04a5a"/><circle cx="601.8" cy="366.2" r="1.7" fill="none" stroke="#f6d8dc" stroke-width="0.6"/>
<g font-weight="bold" font-size="14" fill="#000"><text x="5.6" y="11.5">a</text><text x="345.5" y="11.7">b</text><text x="6.2" y="231.4">c</text><text x="345.5" y="231">d</text></g><g font-size="10.7" fill="#1c1c1c" stroke="#1c1c1c" stroke-width="0.12" text-anchor="middle"><text x="169.2" y="204.9">Cycle number</text><text x="521.5" y="203.9">Cycle number</text><text x="167.3" y="430.4" font-size="11">Cycle number</text><text x="523.9" y="429.6">Cycling number</text></g><text transform="translate(12,93.5) rotate(-90)" text-anchor="middle" font-size="10.65" fill="#1c1c1c" stroke="#1c1c1c" stroke-width="0.12">Specific capacity (mAh g<tspan font-size="7" dy="-4">-1</tspan><tspan font-size="7.3" dy="7.3"> -sulfur</tspan><tspan dy="-3.3">)</tspan></text><text transform="translate(366,93.5) rotate(-90)" text-anchor="middle" font-size="10.65" fill="#1c1c1c" stroke="#1c1c1c" stroke-width="0.12">Specific capacity (mAh g<tspan font-size="7" dy="-4">-1</tspan><tspan font-size="7.3" dy="7.3"> -sulfur</tspan><tspan dy="-3.3">)</tspan></text><text transform="translate(22.3,318.6) rotate(-90)" text-anchor="middle" font-size="10.55" fill="#1c1c1c" stroke="#1c1c1c" stroke-width="0.12">Areal capacity (mAh cm<tspan font-size="7.2" dy="-4">-2</tspan><tspan font-size="7.8" dy="7.6"> -cathode</tspan><tspan dy="-3.6">)</tspan></text><text transform="translate(364.2,318.1) rotate(-90)" text-anchor="middle" font-size="10.85" fill="#1c1c1c" stroke="#1c1c1c" stroke-width="0.12">Pouch cell capacity (mAh)</text><text transform="translate(326.4,93.3) rotate(-90)" text-anchor="middle" font-size="10.7" fill="#1c1c1c" stroke="#1c1c1c" stroke-width="0.12">Coulombic efficiency (%)</text><text transform="translate(680.5,93.3) rotate(-90)" text-anchor="middle" font-size="10.7" fill="#1c1c1c" stroke="#1c1c1c" stroke-width="0.12">Coulombic efficiency (%)</text><text transform="translate(327.8,317.3) rotate(-90)" text-anchor="middle" font-size="10.7" fill="#1c1c1c" stroke="#1c1c1c" stroke-width="0.12">Coulombic efficiency (%)</text><text transform="translate(681.5,317.7) rotate(-90)" text-anchor="middle" font-size="10.7" fill="#1c1c1c" stroke="#1c1c1c" stroke-width="0.12">Coulombic efficiency (%)</text><g font-size="10" fill="#1c1c1c" stroke="#1c1c1c" stroke-width="0.12"><text x="105.8" y="117.7">E/S ratio: 5.0 μL mg<tspan font-size="7" dy="-4">-1</tspan></text><text x="105.8" y="130.5">Sulfur loading: 2.0 mg cm<tspan font-size="7" dy="-4">-2</tspan></text><text x="105.8" y="143.3">Electrolyte: BDTS-LiTFSI-CPME</text></g><g font-size="10" fill="#1c1c1c" stroke="#1c1c1c" stroke-width="0.12"><text x="451.4" y="116.9">E/S ratio: 5.0 μL mg<tspan font-size="7" dy="-4">-1</tspan></text><text x="451.4" y="129.7">Sulfur loading: 3.0 mg cm<tspan font-size="7" dy="-4">-2</tspan></text><text x="451.4" y="142.5">Electrolyte: BDTS-LiTFSI-CPME</text></g><g font-size="10.1" fill="#1c1c1c" stroke="#1c1c1c" stroke-width="0.12"><text x="104.3" y="344.6">E/S ratio: 4.0 μL mg<tspan font-size="7" dy="-4">-1</tspan></text><text x="104.3" y="357.25">Sulfur loading: 5.1 mg cm<tspan font-size="7" dy="-4">-2</tspan></text><text x="104.3" y="369.9">Electrolyte: BDTS-LiTFSI-CPME</text></g><g font-size="9.2" fill="#1c1c1c" stroke="#1c1c1c" stroke-width="0.12"><text x="446.6" y="315.3">Sulfur: 4 mg cm<tspan font-size="7" dy="-4">-2</tspan></text><text x="446.6" y="327.7">E/S ratio: 3μL mg<tspan font-size="7" dy="-4">-1</tspan></text></g><path d="M407.6,374.1H428.4" stroke="#e84040" stroke-width="0.8"/><circle cx="418" cy="374.1" r="2.0" fill="#e8231e"/><path d="M407.6,384.9H428.4" stroke="#5a5ae8" stroke-width="0.8"/><circle cx="418" cy="384.9" r="2.0" fill="#1e22e0"/><g font-size="9.3" fill="#1c1c1c" stroke="#1c1c1c" stroke-width="0.12"><text transform="matrix(1,0,0,1.08,431.3,377.4)">BDTS-LiTFSI-CPME</text><text transform="matrix(1,0,0,1.08,431.3,388.2)">LiTFSI-CPME</text></g>
</svg>
</body></html>
